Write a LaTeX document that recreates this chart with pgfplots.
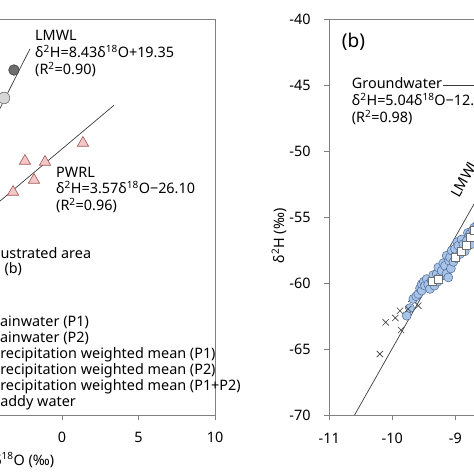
\documentclass[border=0pt]{standalone}
\usepackage{pgfplots}
\pgfplotsset{compat=1.18}
\usepackage{fontspec}
\setmainfont{Noto Sans}
\definecolor{axgray}{RGB}{128,128,128}
\definecolor{lngray}{RGB}{60,60,60}
\definecolor{trifill}{RGB}{244,200,200}
\definecolor{triedge}{RGB}{165,85,85}
\definecolor{bluefill}{RGB}{168,196,230}
\definecolor{blueedge}{RGB}{75,105,155}
\definecolor{darkc}{RGB}{110,110,110}
\definecolor{lightc}{RGB}{215,215,215}
\pgfplotsset{
  panel/.style={
    scale only axis,
    axis line style={draw=axgray, line width=0.9pt},
    tick style={draw=axgray, line width=0.9pt},
    tick align=outside, tick pos=left,
    major tick length=5pt,
    xticklabel style={anchor=base, yshift=-23pt},
    yticklabel style={anchor=east, inner sep=0pt},
  },
}
\begin{document}
\begin{tikzpicture}[font=\fontsize{14.4}{17}\selectfont]
\useasboundingbox (0pt,0pt) rectangle (474pt,474pt);
\clip (0pt,0pt) rectangle (474pt,474pt);
% ---------------- panel (a) ----------------
\begin{axis}[panel, at={(-167.5pt,59pt)}, anchor=south west,
  width=382.5pt, height=396pt,
  xmin=-15, xmax=10, ymin=-100, ymax=10,
  xtick={-15,-10,-5,0,5,10}, xticklabels={-15,-10,-5,0,5,10},
  ytick={-100,-80,-60,-40,-20,0}, yticklabels={-100,-80,-60,-40,-20,0}]
\addplot[only marks, mark=triangle*, mark size=6.5pt,
  mark options={fill=trifill, draw=triedge, line width=0.6pt}]
  coordinates {(1.37,-24.44) (-2.42,-29.44) (-1.11,-29.72) (-1.83,-34.72) (-3.20,-38.06)};
\addplot[only marks, mark=*, mark size=5.3pt,
  mark options={fill=darkc, draw=lngray, line width=0.6pt}]
  coordinates {(-3.14,-4.17)};
\addplot[only marks, mark=*, mark size=5.8pt,
  mark options={fill=lightc, draw=darkc, line width=0.6pt}]
  coordinates {(-3.79,-11.94)};
\addplot[lngray, line width=0.7pt] coordinates {(-12,-81.81) (-2.09,1.73)};
\addplot[lngray, line width=0.7pt] coordinates {(-10,-61.8) (3.40,-13.96)};
\end{axis}
% ---------------- panel (b) ----------------
\begin{axis}[panel, at={(329.3pt,59pt)}, anchor=south west,
  width=378pt, height=396pt,
  xmin=-11, xmax=-5, ymin=-70, ymax=-40,
  xtick={-11,-10,-9,-8,-7,-6,-5}, xticklabels={-11,-10,-9,-8,-7,-6,-5},
  ytick={-70,-65,-60,-55,-50,-45,-40}, yticklabels={-70,-65,-60,-55,-50,-45,-40},
  yticklabel style={xshift=-13.6pt}]
\addplot[only marks, mark=*, mark size=4.5pt,
  mark options={fill=bluefill, draw=blueedge, line width=0.5pt}]
  coordinates {
  (-9.771,-62.48) (-9.72,-61.9) (-9.667,-61.21) (-9.62,-61.0) (-9.587,-60.83)
  (-9.56,-60.4) (-9.533,-60.58) (-9.533,-60.08) (-9.50,-59.9) (-9.481,-60.20)
  (-9.454,-59.70) (-9.43,-60.1) (-9.402,-60.45) (-9.375,-59.83) (-9.35,-59.4)
  (-9.33,-60.2) (-9.295,-59.32) (-9.28,-59.9) (-9.270,-58.82) (-9.24,-59.5)
  (-9.216,-59.07) (-9.19,-58.5) (-9.163,-58.69) (-9.14,-59.3) (-9.137,-57.93)
  (-9.111,-59.58) (-9.10,-58.3) (-9.084,-58.06) (-9.07,-58.9) (-9.057,-57.55)
  (-9.03,-58.4) (-9.005,-57.42) (-8.99,-58.1) (-8.97,-56.9) (-8.952,-57.17)
  (-8.925,-57.80) (-8.90,-56.7) (-8.873,-57.05) (-8.85,-57.6) (-8.819,-56.80)
  (-8.80,-56.2) (-8.767,-56.29) (-8.75,-57.0) (-8.740,-57.05) (-8.72,-56.0)
  (-8.70,-55.8) (-8.68,-56.6) (-8.65,-55.6) (-8.60,-55.9) (-8.55,-55.2)
  (-8.50,-55.5) (-8.45,-54.7) (-8.40,-55.0)};
\addplot[only marks, mark=square*, mark size=4pt,
  mark options={fill=white, draw=darkc, line width=0.5pt}]
  coordinates {(-9.359,-59.88) (-9.270,-59.75) (-9.005,-58.06) (-8.898,-57.61)
  (-8.830,-57.17) (-8.767,-56.55) (-8.703,-56.04)};
\addplot[only marks, mark=x, mark size=4.5pt,
  mark options={draw=lngray, line width=0.6pt}]
  coordinates {(-10.197,-65.38) (-10.105,-62.98) (-9.952,-62.65) (-9.878,-62.10)
  (-9.862,-63.56) (-9.746,-61.97) (-9.587,-61.72)};
\addplot[lngray, line width=0.7pt] coordinates {(-10.62,-70.18) (-8.3,-50.62)};
\addplot[lngray, line width=0.7pt] coordinates {(-9.75,-61.44) (-8.0,-52.62)};
\end{axis}
% ---------------- texts ----------------
\node[anchor=base west, inner sep=0pt] at (35pt,433.5pt) {LMWL};
\node[anchor=base west, inner sep=0pt] at (35pt,416.5pt) {δ\textsuperscript{2}H=8.43δ\textsuperscript{18}O+19.35};
\node[anchor=base west, inner sep=0pt] at (35pt,399pt) {(R\textsuperscript{2}=0.90)};
\node[anchor=base west, inner sep=0pt] at (56pt,296.7pt) {PWRL};
\node[anchor=base west, inner sep=0pt] at (56pt,280pt) {δ\textsuperscript{2}H=3.57δ\textsuperscript{18}O−26.10};
\node[anchor=base west, inner sep=0pt] at (56pt,263pt) {(R\textsuperscript{2}=0.96)};
\node[anchor=base west, inner sep=0pt] at (-12pt,215.5pt) {Illustrated area};
\node[anchor=base west, inner sep=0pt] at (-12pt,200.5pt) {in (b)};
\node[anchor=base west, inner sep=0pt] at (-9pt,147pt) {Rainwater (P1)};
\node[anchor=base west, inner sep=0pt] at (-9pt,131.2pt) {Rainwater (P2)};
\node[anchor=base west, inner sep=0pt] at (-8.6pt,115.2pt) {Precipitation weighted mean (P1)};
\node[anchor=base west, inner sep=0pt] at (-8.6pt,99.5pt) {Precipitation weighted mean (P2)};
\node[anchor=base west, inner sep=0pt] at (-8.6pt,83.8pt) {Precipitation weighted mean (P1+P2)};
\node[anchor=base west, inner sep=0pt] at (-8.6pt,67.8pt) {Paddy water};
\node[anchor=base, inner sep=0pt] at (23.75pt,9pt) {δ\textsuperscript{18}O (‰)};
\node[rotate=90, inner sep=0pt] at (279pt,238pt) {δ\textsuperscript{2}H (‰)};
\node[inner sep=0pt, font=\fontsize{19}{22}\selectfont] at (353.5pt,432pt) {(b)};
\node[anchor=base west, inner sep=0pt] at (351.7pt,385.7pt) {Groundwater};
\draw[lngray, line width=0.6pt] (443pt,389pt) -- (480pt,389pt);
\node[anchor=base west, inner sep=0pt] at (351.7pt,368.5pt) {δ\textsuperscript{2}H=5.04δ\textsuperscript{18}O−12.30};
\node[anchor=base west, inner sep=0pt] at (351.7pt,351.5pt) {(R\textsuperscript{2}=0.98)};
\node[anchor=base west, inner sep=0pt, rotate=60.5] at (459pt,275pt) {LMWL};
\end{tikzpicture}
\end{document}
